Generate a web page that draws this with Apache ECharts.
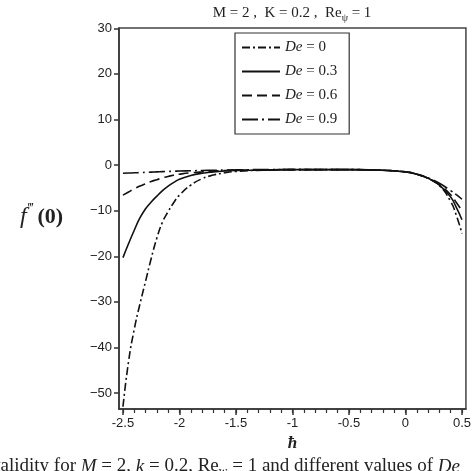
<!DOCTYPE html>
<html>
<head>
<meta charset="utf-8">
<script src="https://cdn.jsdelivr.net/npm/echarts@6/dist/echarts.min.js"></script>
<style>
html, body { margin: 0; padding: 0; background: #fff; }
#chart { width: 474px; height: 471px; }
</style>
</head>
<body>
<div id="chart"></div>
<script>
// hbar values (shared by all curves)
const hbar = [-2.5, -2.45, -2.4, -2.35, -2.3, -2.25, -2.2, -2.15, -2.1, -2.05, -2, -1.9, -1.8, -1.7, -1.6, -1.5,
  -1.25, -1, -0.75, -0.5, -0.25, 0, 0.1, 0.2, 0.3, 0.4, 0.45, 0.5];

const deLabels = ['0', '0.3', '0.6', '0.9'];

// f'''(0) for each De
const de0 = [-53, -43, -36, -30.5, -25.5, -20.5, -16, -12.5, -10.2, -8.2, -6.6, -4.4, -3, -2.2, -1.7, -1.4,
  -1.1, -1, -1, -1, -1.1, -1.5, -2, -2.9, -4.5, -8, -11, -15];
const de03 = [-20.3, -17.2, -14.3, -11.6, -9.6, -8.1, -6.8, -5.6, -4.6, -3.8, -3.1, -2.3, -1.8, -1.5, -1.3, -1.2,
  -1.1, -1, -1, -1, -1.1, -1.5, -2, -2.9, -4.4, -7, -9.3, -12];
const de06 = [-6.6, -5.9, -5.2, -4.6, -4.1, -3.6, -3.2, -2.8, -2.5, -2.2, -2, -1.7, -1.5, -1.3, -1.2, -1.1,
  -1.05, -1, -1, -1, -1.1, -1.5, -2, -2.9, -4.3, -6.5, -8.2, -10];
const de09 = [-1.8, -1.75, -1.7, -1.65, -1.6, -1.55, -1.5, -1.45, -1.4, -1.35, -1.3, -1.25, -1.2, -1.15, -1.1, -1.05,
  -1, -1, -1, -1, -1.1, -1.5, -2, -2.8, -4, -5.6, -6.5, -7.5];

// tick labels
const xTicks = [-2.5, -2, -1.5, -1, -0.5, 0, 0.5];
const xMinorTicks = [-2.5, -2.4, -2.3, -2.2, -2.1, -2, -1.9, -1.8, -1.7, -1.6, -1.5, -1.4, -1.3, -1.2, -1.1, -1,
  -0.9, -0.8, -0.7, -0.6, -0.5, -0.4, -0.3, -0.2, -0.1, 0, 0.1, 0.2, 0.3, 0.4, 0.5];
const yTicks = [-50, -40, -30, -20, -10, 0, 10, 20, 30];

const allSeries = [de0, de03, de06, de09];
const dashes = [[8, 3, 2, 3], 'solid', [10, 5], [16, 4, 2, 4]];

const myChart = echarts.init(document.getElementById('chart'));

const labelFont = { color: '#222', fontFamily: 'Liberation Sans', fontSize: 13 };
const serif = 'Liberation Serif';

const option = {
  animation: false,
  backgroundColor: '#fff',
  title: {
    text: 'M = 2 ,  K = 0.2 ,  Re{sub|ψ} = 1',
    left: 287,
    textAlign: 'center',
    top: -1,
    textStyle: {
      fontFamily: serif, fontSize: 15, fontWeight: 'normal', color: '#222',
      rich: { sub: { fontFamily: serif, fontSize: 10, verticalAlign: 'bottom', padding: [9, 0, 0, 0], color: '#222' } }
    }
  },
  grid: {
    left: 119, top: 28, right: 5, bottom: 62,
    show: true, borderColor: '#444', borderWidth: 1.5, backgroundColor: 'transparent'
  },
  legend: {
    orient: 'vertical',
    left: 235, top: 33,
    itemWidth: 38, itemHeight: 12, itemGap: 9,
    padding: [7, 12, 7, 6],
    borderColor: '#333', borderWidth: 1.2,
    backgroundColor: '#fff',
    itemStyle: { color: 'transparent', borderWidth: 0, opacity: 0 },
    formatter: function (name) {
      return '{i|De} = ' + name.replace('De = ', '');
    },
    textStyle: {
      fontFamily: serif, fontSize: 15, color: '#222',
      rich: { i: { fontFamily: serif, fontStyle: 'italic', fontSize: 15, color: '#222' } }
    }
  },
  xAxis: [{
    type: 'value',
    min: -2.535, max: 0.535,
    position: 'bottom',
    splitLine: { show: false },
    axisLine: { show: true, onZero: false, lineStyle: { color: '#333', width: 1.5 } },
    axisTick: { show: true, length: 6, customValues: xTicks, lineStyle: { color: '#333', width: 1.5 } },
    axisLabel: { customValues: xTicks, margin: 8, ...labelFont },
    name: 'ħ',
    nameLocation: 'middle',
    nameGap: 25,
    nameTextStyle: { fontFamily: serif, fontStyle: 'italic', fontWeight: 'bold', fontSize: 17, color: '#222' }
  }, {
    type: 'value',
    min: -2.535, max: 0.535,
    position: 'bottom',
    splitLine: { show: false },
    axisLine: { show: false, onZero: false },
    axisTick: { show: true, length: 4, customValues: xMinorTicks, lineStyle: { color: '#333', width: 1.2 } },
    axisLabel: { show: false }
  }],
  yAxis: {
    type: 'value',
    min: -53.5, max: 30.06,
    splitLine: { show: false },
    axisLine: { show: true, onZero: false, lineStyle: { color: '#333', width: 1.5 } },
    axisTick: { show: true, length: 5, customValues: yTicks, lineStyle: { color: '#333', width: 1.5 } },
    axisLabel: {
      customValues: yTicks, margin: 7, ...labelFont,
      formatter: v => (v < 0 ? '\u2212' + Math.abs(v) : String(v))
    }
  },
  graphic: [{
    type: 'text',
    left: 20, top: 202,
    style: {
      text: '{f|f}{s|‴}{p|(0)}',
      rich: {
        f: { fontFamily: serif, fontStyle: 'italic', fontSize: 24, fill: '#222' },
        s: { fontFamily: serif, fontSize: 14, fill: '#222', verticalAlign: 'top', padding: [0, 4, 16, 1] },
        p: { fontFamily: serif, fontSize: 22, fontWeight: 'bold', fill: '#222' }
      }
    }
  }, {
    type: 'text',
    left: -9, top: 457,
    style: {
      text: 'validity for {i|M} = 2, {i|k} = 0.2, Re{s|w} = 1 and different values of {i|De}',
      font: '19px "Liberation Serif"',
      fill: '#222',
      rich: {
        i: { fontFamily: serif, fontStyle: 'italic', fontSize: 19, fill: '#222' },
        s: { fontFamily: serif, fontSize: 12, fill: '#222', padding: [10, 0, 0, 0] }
      }
    }
  }],
  series: allSeries.map(function (vals, k) {
    return {
      name: 'De = ' + deLabels[k],
      type: 'line',
      symbol: 'none',
      showSymbol: false,
      smooth: true,
      xAxisIndex: 0,
      data: hbar.map((x, i) => [x, vals[i]]),
      lineStyle: { color: '#111', width: 1.6, type: dashes[k] },
      itemStyle: { color: '#111' }
    };
  })
};

myChart.setOption(option);
</script>
</body>
</html>
